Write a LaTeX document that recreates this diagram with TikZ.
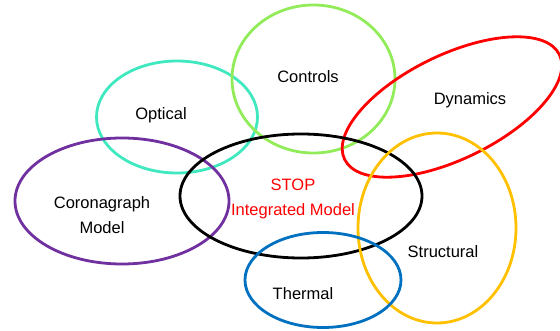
\documentclass[tikz,border=0pt]{standalone}
\usepackage{fontspec}
\setmainfont{Liberation Sans}
\usetikzlibrary{shapes.geometric}
\definecolor{cOpt}{RGB}{64,232,192}
\definecolor{cCtl}{RGB}{146,236,90}
\definecolor{cDyn}{RGB}{255,0,0}
\definecolor{cCor}{RGB}{112,48,160}
\definecolor{cStr}{RGB}{255,192,0}
\definecolor{cThm}{RGB}{0,112,192}
\tikzset{
  ring/.style={ellipse, draw, line width=2.8pt, inner sep=0pt, outer sep=0pt},
  lbl/.style={font=\fontsize{16.5}{25}\selectfont, align=center, inner sep=0pt, text=black}
}
\begin{document}
\begin{tikzpicture}[x=1pt,y=-1pt]
\useasboundingbox (0,0) rectangle (560,331);
\node[ring, draw=cOpt, minimum width=161pt, minimum height=112pt] (opt) at (177,117) {};
\node[ring, draw=cCtl, minimum width=163pt, minimum height=148pt] (ctl) at (313.5,79) {};
\node[ring, draw=cDyn, minimum width=239pt, minimum height=104pt, rotate=26] (dyn) at (452,107) {};
\node[ring, draw=cCor, minimum width=214pt, minimum height=126pt] (cor) at (122,201) {};
\node[ring, draw=black, minimum width=242pt, minimum height=124pt] (stop) at (301,196) {};
\node[ring, draw=cStr, minimum width=158pt, minimum height=190pt] (str) at (437,228) {};
\node[ring, draw=cThm, minimum width=156pt, minimum height=95pt] (thm) at (323,280) {};
\node[lbl] (optT) at (161,115) {Optical};
\node[lbl] (ctlT) at (308,77) {Controls};
\node[lbl] (dynT) at (470,100) {Dynamics};
\node[lbl] (corT) at (102,215) {Coronagraph\\Model};
\node[lbl, text=cDyn] (stopT) at (293,199) {STOP\\Integrated Model};
\node[lbl] (strT) at (443,252) {Structural};
\node[lbl] (thmT) at (303,294) {Thermal};
\end{tikzpicture}
\end{document}
